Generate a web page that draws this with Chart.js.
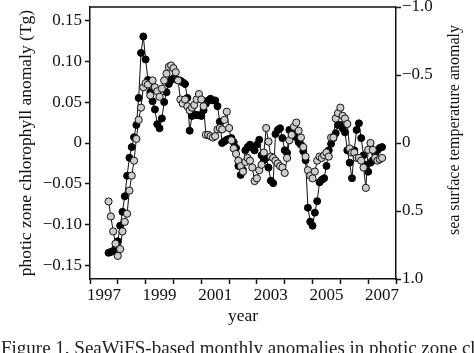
<!DOCTYPE html>
<html>
<head>
<meta charset="utf-8">
<script src="https://cdn.jsdelivr.net/npm/chart.js@4.4.0/dist/chart.umd.min.js"></script>
<style>
  html, body { margin: 0; padding: 0; background: #fff; }
  #wrap { position: relative; width: 474px; height: 353px; overflow: hidden; }
  #caption {
    position: absolute; left: 1px; top: 337px;
    white-space: nowrap; line-height: 1;
    font: 19px 'Liberation Serif', serif; color: #222;
  }
</style>
</head>
<body>
<div id="wrap">
  <canvas id="chart" width="474" height="353"></canvas>
  <div id="caption">Figure 1. SeaWiFS-based monthly anomalies in photic zone chlorophyll</div>
</div>
<script>
// anomalias mensais, começando em set/1997
const startYear = 1997;
const startMonth = 9;

// clorofila (Tg), eixo da esquerda
const chlAnomaly = [
  -0.134, -0.133, -0.132, -0.127,
  -0.120, -0.101, -0.084, -0.065, -0.040, -0.018, -0.005, 0.007, 0.022, 0.055, 0.110, 0.130,
  0.102, 0.077, 0.062, 0.051, 0.041, 0.023, 0.018, 0.030, 0.050, 0.062, 0.072, 0.077,
  0.079, 0.078, 0.077, 0.076, 0.074, 0.072, 0.055, 0.015, 0.033, 0.035, 0.034, 0.034,
  0.033, 0.040, 0.048, 0.052, 0.054, 0.052, 0.052, 0.045, 0.026, 0.000, 0.002, 0.004,
  0.005, 0.006, 0.001, -0.006, -0.028, -0.039, -0.033, -0.009, -0.005, -0.002, -0.006, -0.009,
  -0.002, 0.004, -0.015, -0.021, -0.018, -0.030, -0.046, -0.049, 0.011, 0.016, 0.018, 0.006,
  -0.009, -0.012, 0.016, 0.015, 0.011, 0.007, 0.001, -0.002, -0.010, -0.021, -0.079, -0.096,
  -0.101, -0.085, -0.071, -0.048, -0.045, -0.043, -0.028, -0.009, -0.001, 0.006, 0.012, 0.022,
  0.022, 0.018, 0.013, -0.009, -0.024, -0.043, -0.009, 0.016, 0.024, 0.006, -0.015, -0.027,
  -0.035, -0.024, -0.021, -0.013, -0.009, -0.006, -0.005
];

// temperatura da superfície do mar, eixo da direita (invertido)
const sstAnomaly = [
  0.43, 0.54, 0.65, 0.74,
  0.83, 0.78, 0.65, 0.58, 0.52, 0.35, 0.24, 0.13, -0.03, -0.17, -0.26, -0.41,
  -0.44, -0.43, -0.35, -0.46, -0.41, -0.38, -0.34, -0.40, -0.46, -0.51, -0.56, -0.57,
  -0.55, -0.52, -0.46, -0.32, -0.29, -0.32, -0.27, -0.24, -0.26, -0.28, -0.32, -0.36,
  -0.32, -0.27, -0.06, -0.06, -0.05, -0.04, -0.05, -0.10, -0.11, -0.10, -0.17, -0.23,
  -0.11, -0.02, 0.04, 0.08, 0.13, 0.17, 0.21, 0.14, 0.11, 0.13, 0.18, 0.28,
  0.26, 0.20, 0.16, 0.07, -0.11, -0.01, 0.10, 0.11, 0.13, 0.15, 0.17, 0.18,
  0.22, 0.11, -0.02, -0.06, -0.12, -0.15, -0.09, -0.04, 0.03, 0.10, 0.20, 0.24,
  0.26, 0.21, 0.13, 0.10, 0.11, 0.09, 0.07, 0.10, -0.04, -0.04, -0.18, -0.22,
  -0.26, -0.20, -0.18, -0.14, 0.04, 0.07, 0.07, 0.11, 0.11, 0.13, 0.18, 0.33,
  0.05, 0.00, 0.05, 0.11, 0.13, 0.12, 0.11
];

const yearTicks = [1997, 1998, 1999, 2000, 2001, 2002, 2003, 2004, 2005, 2006, 2007, 2008];
const yearLabels = [1997, 1999, 2001, 2003, 2005, 2007];
const chlTicks = [-0.15, -0.10, -0.05, 0, 0.05, 0.10, 0.15];
const sstTicks = [-1.0, -0.5, 0, 0.5, 1.0];

const ink = '#111';
const serifFamily = "'Liberation Serif', 'Times New Roman', serif";
const serif = { family: serifFamily, size: 17, lineHeight: 1.2 };
const titleFont = { family: serifFamily, size: 17.5, lineHeight: 1.2 };

const toPoints = (arr) => arr.map((v, i) => ({ x: startYear + (startMonth - 1 + i) / 12, y: v }));
const minus = (s) => s.replace('-', '\u2212');

// linha de cima da moldura + título do eixo direito (lido de baixo pra cima)
const extras = {
  id: 'extras',
  afterDraw(chart) {
    const { ctx, chartArea: a } = chart;
    ctx.save();
    ctx.strokeStyle = ink;
    ctx.lineWidth = 1.5;
    ctx.beginPath();
    ctx.moveTo(a.left, a.top);
    ctx.lineTo(a.right, a.top);
    ctx.stroke();

    ctx.translate(455, 130);
    ctx.rotate(-Math.PI / 2);
    ctx.font = "16px 'Liberation Serif', serif";
    ctx.fillStyle = ink;
    ctx.textAlign = 'center';
    ctx.textBaseline = 'middle';
    ctx.fillText('sea surface temperature anomaly', 0, 0);
    ctx.restore();
  }
};

new Chart(document.getElementById('chart'), {
  type: 'line',
  data: {
    datasets: [
      {
        label: 'SST',
        data: toPoints(sstAnomaly),
        yAxisID: 'y2',
        order: 0,
        borderColor: ink,
        borderWidth: 1,
        pointRadius: 3.6,
        pointBorderWidth: 1,
        pointBackgroundColor: '#cdcdcd',
        pointBorderColor: ink
      },
      {
        label: 'chl',
        data: toPoints(chlAnomaly),
        yAxisID: 'y',
        order: 1,
        borderColor: ink,
        borderWidth: 1,
        pointRadius: 3.5,
        pointBorderWidth: 1,
        pointBackgroundColor: '#000',
        pointBorderColor: '#000'
      }
    ]
  },
  options: {
    responsive: false,
    animation: false,
    layout: { padding: { top: 7, left: 0, right: 0, bottom: 0 } },
    plugins: { legend: { display: false }, tooltip: { enabled: false } },
    scales: {
      x: {
        type: 'linear',
        min: 1997,
        max: 2008,
        afterBuildTicks: (s) => { s.ticks = yearTicks.map((v) => ({ value: v })); },
        afterFit: (s) => { s.height = 74; s.paddingLeft = 0; s.paddingRight = 0; },
        ticks: {
          autoSkip: false,
          maxRotation: 0,
          labelOffset: 13.9,
          padding: 1,
          color: ink,
          font: serif,
          callback: (v) => (yearLabels.includes(v) ? String(v) : '')
        },
        grid: { drawOnChartArea: false, tickLength: 5, tickWidth: 1.5, tickColor: ink },
        border: { color: ink, width: 1.5 },
        title: { display: true, text: 'year', color: ink, font: titleFont, padding: { top: 0, bottom: 26 } }
      },
      y: {
        position: 'left',
        min: -0.166,
        max: 0.166,
        afterBuildTicks: (s) => { s.ticks = chlTicks.map((v) => ({ value: v })); },
        afterFit: (s) => { s.width = 90; s.paddingTop = 0; s.paddingBottom = 0; },
        ticks: {
          padding: 3,
          color: ink,
          font: serif,
          callback: (v) => (v === 0 ? '0' : minus(v.toFixed(2)))
        },
        grid: { drawOnChartArea: false, tickLength: 5, tickWidth: 1.5, tickColor: ink },
        border: { color: ink, width: 1.5 },
        title: {
          display: true,
          text: 'photic zone chlorophyll anomaly (Tg)',
          color: ink,
          font: titleFont,
          padding: { top: 16, bottom: 0 }
        }
      },
      y2: {
        position: 'right',
        min: -1,
        max: 1,
        reverse: true,
        afterBuildTicks: (s) => { s.ticks = sstTicks.map((v) => ({ value: v })); },
        afterFit: (s) => { s.width = 78; s.paddingTop = 0; s.paddingBottom = 0; },
        ticks: {
          padding: 1,
          color: ink,
          font: serif,
          callback: (v) => (v === 0 ? '0' : minus(v.toFixed(1)))
        },
        grid: { drawOnChartArea: false, tickLength: 5, tickWidth: 1.5, tickColor: ink },
        border: { color: ink, width: 1.5 }
      }
    }
  },
  plugins: [extras]
});
</script>
</body>
</html>
